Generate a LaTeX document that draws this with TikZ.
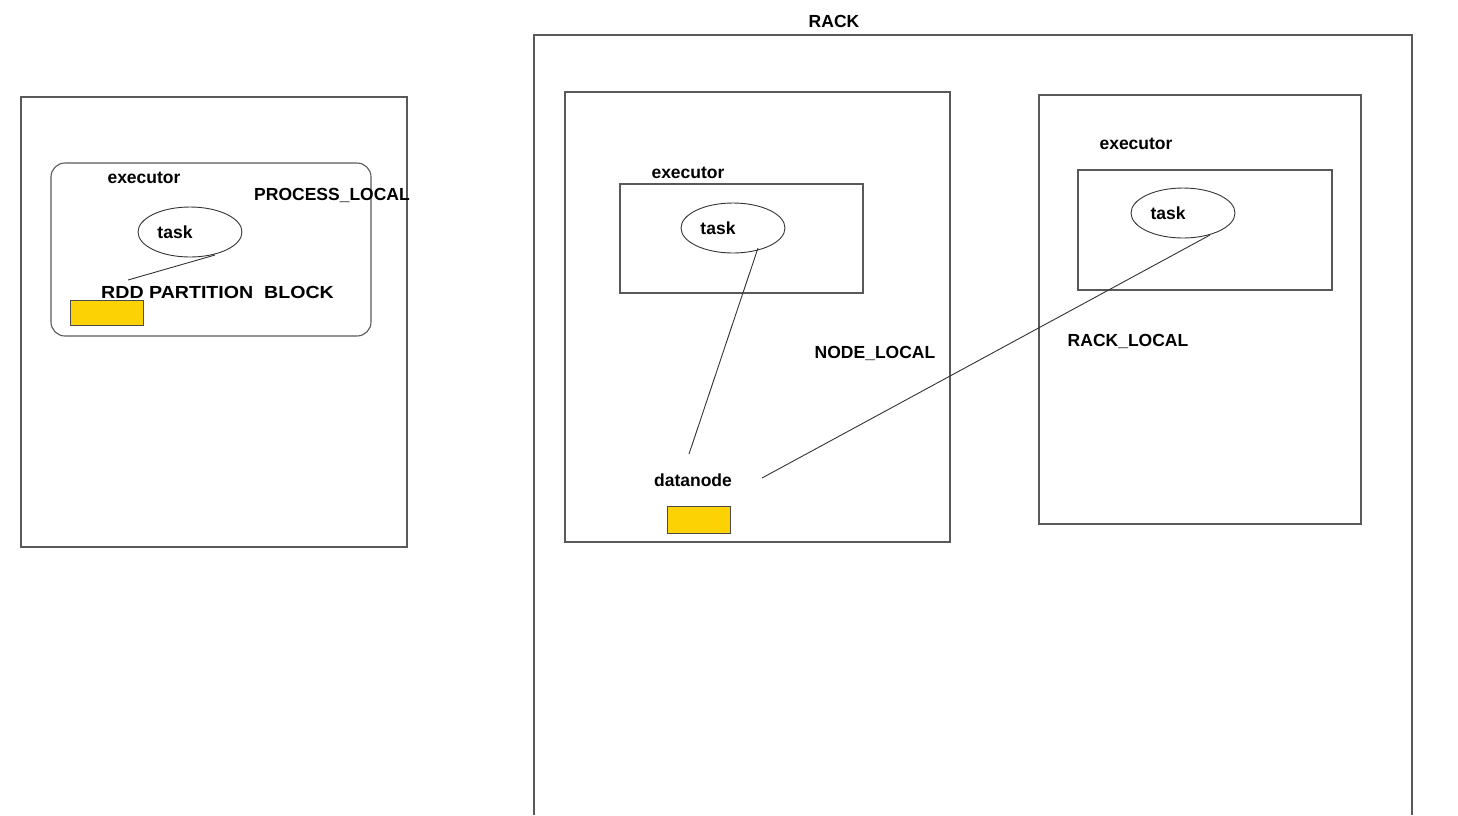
\documentclass[tikz,border=0pt]{standalone}
\usepackage{fontspec}
\setmainfont{Liberation Sans}
\usetikzlibrary{shapes.geometric}
\begin{document}
\begin{tikzpicture}[x=1pt,y=-1pt,
  box/.style={draw=black!65,line width=1.1pt},
  lbl/.style={font=\bfseries\fontsize{17.5}{20}\selectfont,inner sep=0pt},
  task/.style={draw=black!80,ellipse,line width=0.9pt,minimum width=104pt,minimum height=50pt,font=\bfseries\fontsize{17.5}{20}\selectfont,inner sep=0pt},
  blk/.style={draw=black!70,fill=yellow!70!orange,line width=0.8pt},
  link/.style={draw=black!80,line width=0.9pt}]
\useasboundingbox (0,0) rectangle (1458,815);
% left
\draw[box] (21,97) rectangle (407,547);
\draw[box,rounded corners=14pt] (51,163) rectangle (371,336);
\node[lbl] (ex1) at (144,178) {executor};
\node[lbl] (pl) at (332,195) {PROCESS\_LOCAL};
\node[task] (t1) at (190,232) {\hspace*{-30pt}task};
\node[lbl,xscale=1.12,anchor=west] (rdd) at (101,292) {RDD PARTITION\ \ BLOCK};
\draw[blk] (70,300) rectangle (143,325);
\coordinate (a1) at (128,280);
\coordinate (b1) at (215,255);
\draw[link] (a1) -- (b1);
% rack
\node[lbl] (rack) at (834,21) {RACK};
\draw[box] (534,815) -- (534,35) -- (1412,35) -- (1412,815);
% node 1
\draw[box] (565,92) rectangle (950,542);
\node[lbl] (ex2) at (688,173) {executor};
\draw[box] (620,184) rectangle (863,293);
\node[task] (t2) at (733,228) {\hspace*{-30pt}task};
\node[lbl] (dn) at (693,480) {datanode};
\draw[blk] (667,506) rectangle (730,533);
\node[lbl] (nl) at (875,353) {NODE\_LOCAL};
\coordinate (a2) at (758,248);
\coordinate (b2) at (689,454);
\draw[link] (a2) -- (b2);
% node 2
\draw[box] (1039,95) rectangle (1361,524);
\node[lbl] (ex3) at (1136,144) {executor};
\draw[box] (1078,170) rectangle (1332,290);
\node[task] (t3) at (1183,213) {\hspace*{-30pt}task};
\node[lbl] (rl) at (1128,341) {RACK\_LOCAL};
\coordinate (a3) at (762,478);
\coordinate (b3) at (1210,235);
\draw[link] (a3) -- (b3);
\end{tikzpicture}
\end{document}
